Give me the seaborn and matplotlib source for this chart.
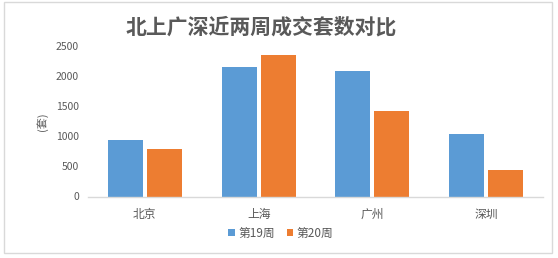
import matplotlib
matplotlib.use("Agg")
import matplotlib.pyplot as plt
import seaborn as sns
import pandas as pd
from matplotlib.patches import Rectangle, Patch

cities = ["北京", "上海", "广州", "深圳"]
weeks = ["第19周", "第20周"]
week19 = [940, 2150, 2085, 1040]
week20 = [790, 2350, 1420, 440]
yticks = [0, 500, 1000, 1500, 2000, 2500]
colors = ["#5B9BD5", "#ED7D31"]

df = pd.DataFrame({
    "city": cities * 2,
    "week": [weeks[0]] * 4 + [weeks[1]] * 4,
    "value": week19 + week20,
})

sns.set_theme(style="white")
plt.rcParams["font.family"] = ["Noto Sans CJK SC", "DejaVu Sans"]

W, H = 558, 258
fig = plt.figure(figsize=(W / 100, H / 100), dpi=100)
ax = fig.add_axes([88 / W, 1 - 196.5 / H, (543 - 88) / W, (196.5 - 46) / H])

sns.barplot(data=df, x="city", y="value", hue="week", palette=colors,
            width=0.686, gap=0.1, saturation=1, linewidth=0, ax=ax, legend=True)

ax.set_xlim(-0.5, 3.5)
ax.set_ylim(0, 2500)
ax.set_yticks(yticks)
ax.set_yticklabels([str(t) for t in yticks])
ax.set_xlabel("")
ax.set_ylabel("")
for s in ["left", "right", "top"]:
    ax.spines[s].set_visible(False)
ax.spines["bottom"].set_color("#D9D9D9")
ax.spines["bottom"].set_linewidth(1)
ax.tick_params(axis="y", length=0, pad=6.5, labelsize=7.5, labelcolor="#595959")
ax.tick_params(axis="x", length=0, pad=8, labelsize=8.5, labelcolor="#595959")
ax.grid(False)

ax.get_legend().remove()
handles = [Patch(facecolor=c, edgecolor="none") for c in colors]
fig.legend(handles, weeks, loc="center", bbox_to_anchor=(281 / W, 1 - 233 / H),
           ncol=2, frameon=False, fontsize=8.5, handlelength=0.55, handleheight=0.55,
           handletextpad=0.3, columnspacing=1.0, labelcolor="#595959")

fig.text(261 / W, 1 - 27 / H, "北上广深近两周成交套数对比", ha="center", va="center",
         fontsize=15, fontweight="bold", color="#595959")
fig.text(42 / W, 1 - 122 / H, "(套)", ha="center", va="center", rotation=90,
         fontsize=8, color="#595959")

fig.patches.append(Rectangle((4 / W, 5 / H), (552 - 4) / W, (253 - 2) / H,
                             transform=fig.transFigure, fill=False,
                             edgecolor="#D9D9D9", linewidth=1))

fig.savefig("out.png", dpi=100)
